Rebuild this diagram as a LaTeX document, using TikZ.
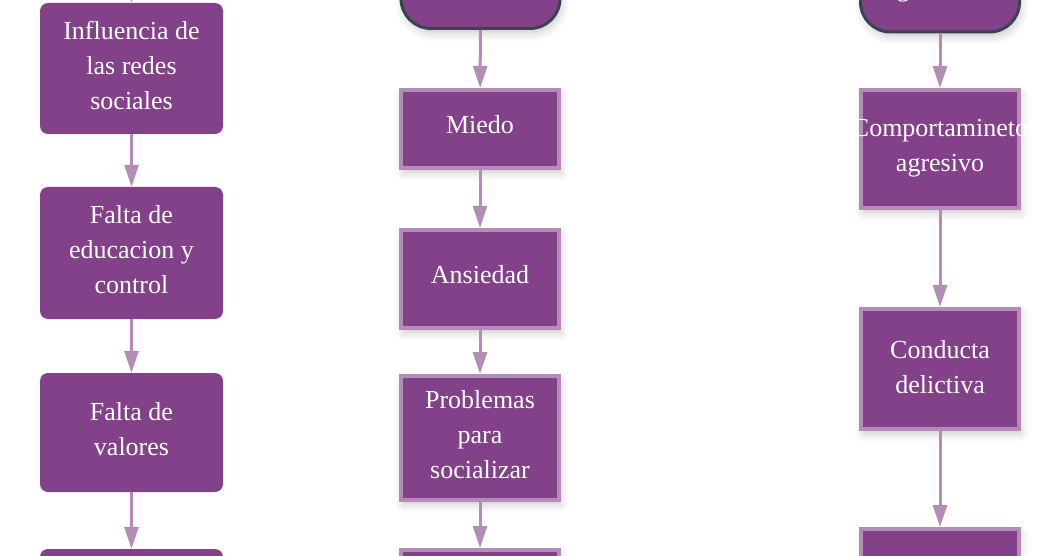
\documentclass[tikz,border=0pt]{standalone}
\usepackage{fontspec}
\setmainfont{Liberation Serif}
\usetikzlibrary{arrows.meta,shadows.blur}
\definecolor{boxfill}{HTML}{834189}
\definecolor{lightpurple}{HTML}{B38DB8}
\definecolor{darkborder}{HTML}{38454F}
\tikzset{
  txt/.style={text=white,font=\fontsize{26}{35}\selectfont,align=center,inner sep=0pt},
  leftbox/.style={fill=boxfill,draw=none,rounded corners=8pt,minimum width=183pt,inner sep=0pt},
  sqbox/.style={fill=boxfill,draw=lightpurple,line width=4pt,minimum width=158pt,inner sep=0pt,
    blur shadow={shadow xshift=2pt,shadow yshift=-5pt,shadow blur radius=8pt,shadow opacity=20}},
  topbox/.style={fill=boxfill,draw=darkborder,line width=3pt,rounded corners=30pt,minimum width=159pt,inner sep=0pt,
    blur shadow={shadow xshift=2pt,shadow yshift=-5pt,shadow blur radius=8pt,shadow opacity=20}},
  arr/.style={draw=lightpurple,line width=3pt,-{Triangle[length=22pt,width=14pt]}},
}
\begin{document}
\begin{tikzpicture}[x=1pt,y=-1pt]
\useasboundingbox (0,0) rectangle (1060,556);
\begin{scope}
\clip (0,0) rectangle (1060,556);
% left column
\coordinate (l0) at (131.5,-40);
\node[leftbox,minimum height=131pt] (l1) at (131.5,68.5) {};
\node[leftbox,minimum height=132pt] (l2) at (131.5,253) {};
\node[leftbox,minimum height=119pt] (l3) at (131.5,432.5) {};
\node[leftbox,minimum height=122pt] (l4) at (131.5,610) {};
\node[txt] (l1t) at ([yshift=3pt]l1.center) {Influencia de\\las redes\\sociales};
\node[txt] (l2t) at ([yshift=3pt]l2.center) {Falta de\\educacion y\\control};
\node[txt] (l3t) at ([yshift=3pt]l3.center) {Falta de\\valores};
\draw[arr] (l0) -- (l1.north);
\draw[arr] (l1) -- (l2);
\draw[arr] (l2) -- (l3);
\draw[arr] (l3) -- (l4);
% middle column
\node[topbox,minimum height=87pt] (m0) at (480.5,-15) {};
\node[sqbox,minimum height=78pt] (m1) at (480,129) {};
\node[sqbox,minimum height=98pt] (m2) at (480,279) {};
\node[sqbox,minimum height=124pt] (m3) at (480,438) {};
\node[sqbox,minimum height=98pt] (m4) at (480,599) {};
\node[txt] (m1t) at ([yshift=4pt]m1.center) {Miedo};
\node[txt] (m2t) at ([yshift=4pt]m2.center) {Ansiedad};
\node[txt] (m3t) at ([yshift=3pt]m3.center) {Problemas\\para\\socializar};
\draw[arr] (m0) -- (m1);
\draw[arr] (m1) -- (m2);
\draw[arr] (m2) -- (m3);
\draw[arr] (m3) -- (m4);
% right column
\node[topbox,minimum height=90pt] (r0) at (940,-13) {};
\node[txt,anchor=base] (rg) at (903,-3) {g};
\node[sqbox,minimum height=118pt] (r1) at (940,149) {};
\node[sqbox,minimum height=120pt] (r2) at (940,369) {};
\node[sqbox,minimum height=102pt] (r3) at (940,580) {};
\node[txt] (r1t) at ([yshift=1pt]r1.center) {Comportamineto\\agresivo};
\node[txt] (r2t) at ([yshift=2pt]r2.center) {Conducta\\delictiva};
\draw[arr] (r0) -- (r1);
\draw[arr] (r1) -- (r2);
\draw[arr] (r2) -- (r3);
\end{scope}
\end{tikzpicture}
\end{document}
